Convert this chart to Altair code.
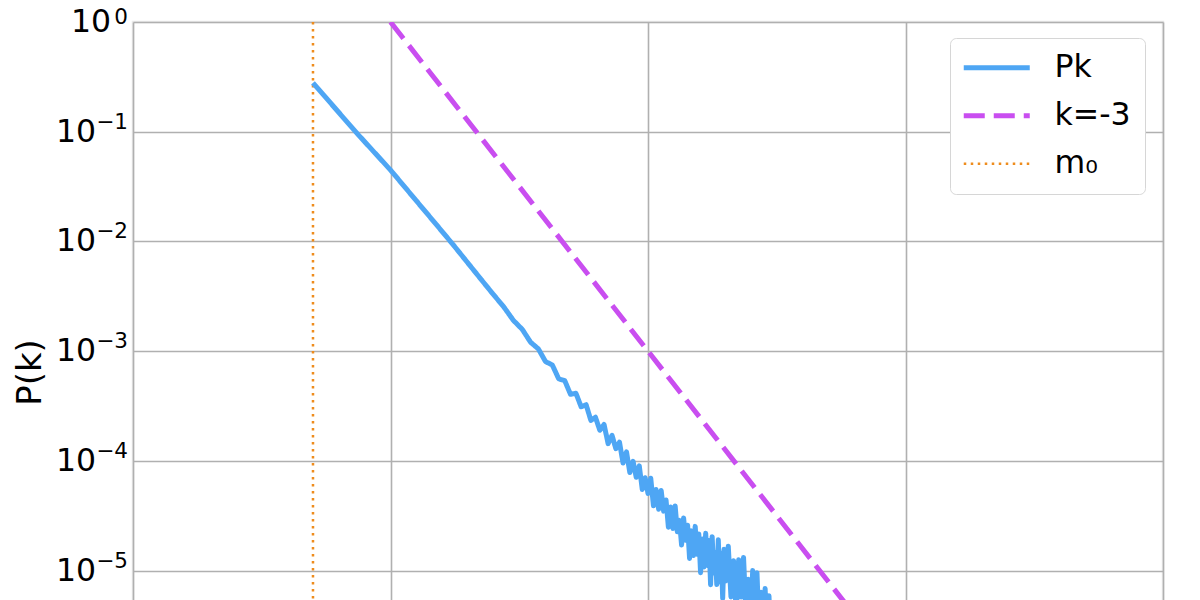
import altair as alt
import pandas as pd

# ---- data ----
k_values = [0.5, 0.75, 1.0, 1.25, 1.5, 1.75, 2.0, 2.25, 2.5, 2.75,
            3.0, 3.25, 3.5, 3.75, 4.0, 4.25, 4.5, 4.75, 5.0, 5.25,
            5.5, 5.75, 6.0, 6.25, 6.5, 6.75, 7.0, 7.25, 7.5, 7.75,
            8.0, 8.25, 8.5, 8.75, 9.0, 9.25, 9.5, 9.75, 10.0, 10.25,
            10.5, 10.75, 11.0, 11.25, 11.5, 11.75, 12.0, 12.25, 12.5, 12.75,
            13.0, 13.25, 13.5, 13.75, 14.0, 14.25, 14.5, 14.75, 15.0, 15.25,
            15.5, 15.75, 16.0, 16.25, 16.5, 16.75, 17.0, 17.25, 17.5, 17.75,
            18.0, 18.25, 18.5, 18.75, 19.0, 19.25, 19.5, 19.75, 20.0, 20.5,
            21.0, 21.5, 22.0, 22.5, 23.0, 23.5, 24.0, 24.5, 25.0, 25.5,
            26.0, 26.5, 27.0, 27.5, 28.0, 28.5, 29.0, 29.5, 30.0, 31.0, 32.0]

# log10 of P(k)
log10_pk = [-0.555, -1.028, -1.349, -1.620, -1.841, -2.029, -2.198, -2.347, -2.479, -2.595,
            -2.719, -2.802, -2.919, -2.979, -3.095, -3.126, -3.252, -3.269, -3.393, -3.384,
            -3.507, -3.488, -3.631, -3.602, -3.721, -3.668, -3.843, -3.767, -3.889, -3.830,
            -4.020, -3.918, -4.106, -4.004, -4.150, -4.046, -4.260, -4.154, -4.297, -4.159,
            -4.410, -4.261, -4.441, -4.270, -4.458, -4.356, -4.604, -4.420, -4.616, -4.412,
            -4.647, -4.542, -4.766, -4.520, -4.723, -4.586, -4.889, -4.638, -4.863, -4.597,
            -4.851, -4.666, -5.019, -4.713, -4.967, -4.660, -4.953, -4.726, -5.128, -4.691,
            -5.023, -4.835, -5.127, -4.719, -5.101, -4.842, -5.254, -4.805, -5.096, -4.778,
            -5.240, -4.911, -5.381, -4.901, -5.241, -4.880, -5.379, -5.078, -5.496, -5.000,
            -5.395, -5.020, -5.544, -5.198, -5.642, -5.164, -5.587, -5.229, -5.731, -5.374, -5.765]

ref_k = [1.0, 200.0]          # k^-3 reference line
ref_p = [1.0, 1.25e-7]
m0_value = [0.5]

series_names = ["Pk", "k=-3", "m₀"]
series_colors = ["#4ea6f4", "#c94ef0", "#ee8c1d"]
series_dashes = [[1, 0], [21, 9], [2.5, 4.5]]

y_ticks = [1, 1e-1, 1e-2, 1e-3, 1e-4, 1e-5, 1e-6]
y_tick_base = ["10", "10", "10", "10", "10", "10", "10"]
y_tick_exp = ["0", "−1", "−2", "−3", "−4", "−5", "−6"]
x_ticks = [0.1, 1, 10, 100, 1000]

FONT = "DejaVu Sans"

pk_df = pd.DataFrame({"k": k_values, "P": [10 ** v for v in log10_pk], "series": "Pk"})
ref_df = pd.DataFrame({"k": ref_k, "P": ref_p, "series": "k=-3"})
m0_df = pd.DataFrame({"k": m0_value, "series": ["m₀"]})
tick_df = pd.DataFrame({"P": y_ticks, "base": y_tick_base, "exp": y_tick_exp})

x_scale = alt.Scale(type="log", domain=[0.1, 1000], nice=False)
y_scale = alt.Scale(type="log", domain=[10 ** -6.38, 1], nice=False)

y_axis = alt.Axis(values=y_ticks, title="P(k)", labels=False, ticks=False, domain=False,
                  gridColor="#b0b0b0", gridWidth=1.6, gridOpacity=1,
                  titleFont=FONT, titleFontSize=34, titleFontWeight="normal", titleColor="black",
                  titleX=-103, titleY=350, titleAngle=-90, titleBaseline="middle", titleAlign="center")
sup = "['⁰','¹','²','³','⁴','⁵','⁶','⁷']"
x_axis = alt.Axis(values=x_ticks, title="k",
                  labelExpr="datum.value == 1 ? '10⁰' : datum.value < 1 ? '10⁻¹' : '10' + " + sup + "[round(log(datum.value)/LN10)]",
                  labelFontSize=30, labelFont=FONT, labelColor="black",
                  labelFlush=False, ticks=False, domain=False,
                  gridColor="#b0b0b0", gridWidth=1.6, gridOpacity=1,
                  titleFont=FONT, titleFontSize=31, titleFontWeight="normal")

legend = alt.Legend(title=None, orient="none", legendX=817, legendY=16,
                    symbolType="M-3,0H3", symbolSize=484, symbolOffset=17,
                    symbolStrokeWidth={"expr": "datum.value == 'm₀' ? 2.5 : 5"},
                    labelFont=FONT, labelFontSize=31.5, labelColor="black", labelOffset=42,
                    rowPadding=15, padding=14, fillColor="white", strokeColor="#d6d6d6",
                    cornerRadius=6)

color = alt.Color("series:N", scale=alt.Scale(domain=series_names, range=series_colors), legend=legend)
dash = alt.StrokeDash("series:N", scale=alt.Scale(domain=series_names, range=series_dashes), legend=legend)

base_x = alt.X("k:Q", scale=x_scale, axis=x_axis)
base_y = alt.Y("P:Q", scale=y_scale, axis=y_axis)

m0_rule = alt.Chart(m0_df).mark_rule(strokeWidth=2.5).encode(
    x=base_x, color=color, strokeDash=dash)

pk_line = alt.Chart(pk_df).mark_line(strokeWidth=5, strokeJoin="round", clip=True).encode(
    x=base_x, y=base_y, color=color, strokeDash=dash)

ref_line = alt.Chart(ref_df).mark_line(strokeWidth=5, clip=True).encode(
    x=base_x, y=base_y, color=color, strokeDash=dash)

# y tick labels drawn as "10" + superscript exponent
ty = alt.Y("P:Q", scale=y_scale)
text_style = dict(font=FONT, color="black", baseline="middle", align="right")
tick_base_0 = alt.Chart(tick_df).transform_filter("datum.exp == '0'").mark_text(
    fontSize=31.5, dy=1, **text_style).encode(y=ty, x=alt.value(-22), text="base:N")
tick_base_n = alt.Chart(tick_df).transform_filter("datum.exp != '0'").mark_text(
    fontSize=31.5, dy=1, **text_style).encode(y=ty, x=alt.value(-37), text="base:N")
tick_exp_0 = alt.Chart(tick_df).transform_filter("datum.exp == '0'").mark_text(
    fontSize=21.5, dy=-4, **text_style).encode(y=ty, x=alt.value(-5), text="exp:N")
tick_exp_n = alt.Chart(tick_df).transform_filter("datum.exp != '0'").mark_text(
    fontSize=21.5, dy=-9, **text_style).encode(y=ty, x=alt.value(-5), text="exp:N")

chart = alt.layer(m0_rule, pk_line, ref_line,
                  tick_base_0, tick_base_n, tick_exp_0, tick_exp_n).properties(
    width=1030, height=700,
    autosize=alt.AutoSizeParams(type="none"),
    padding={"left": 125, "top": 14, "right": 10, "bottom": 80},
).configure(
    background="white"
).configure_view(
    stroke="#ebebeb", strokeWidth=2.5
)

chart.save("out.html", embed_options={"renderer": "svg", "actions": False})
